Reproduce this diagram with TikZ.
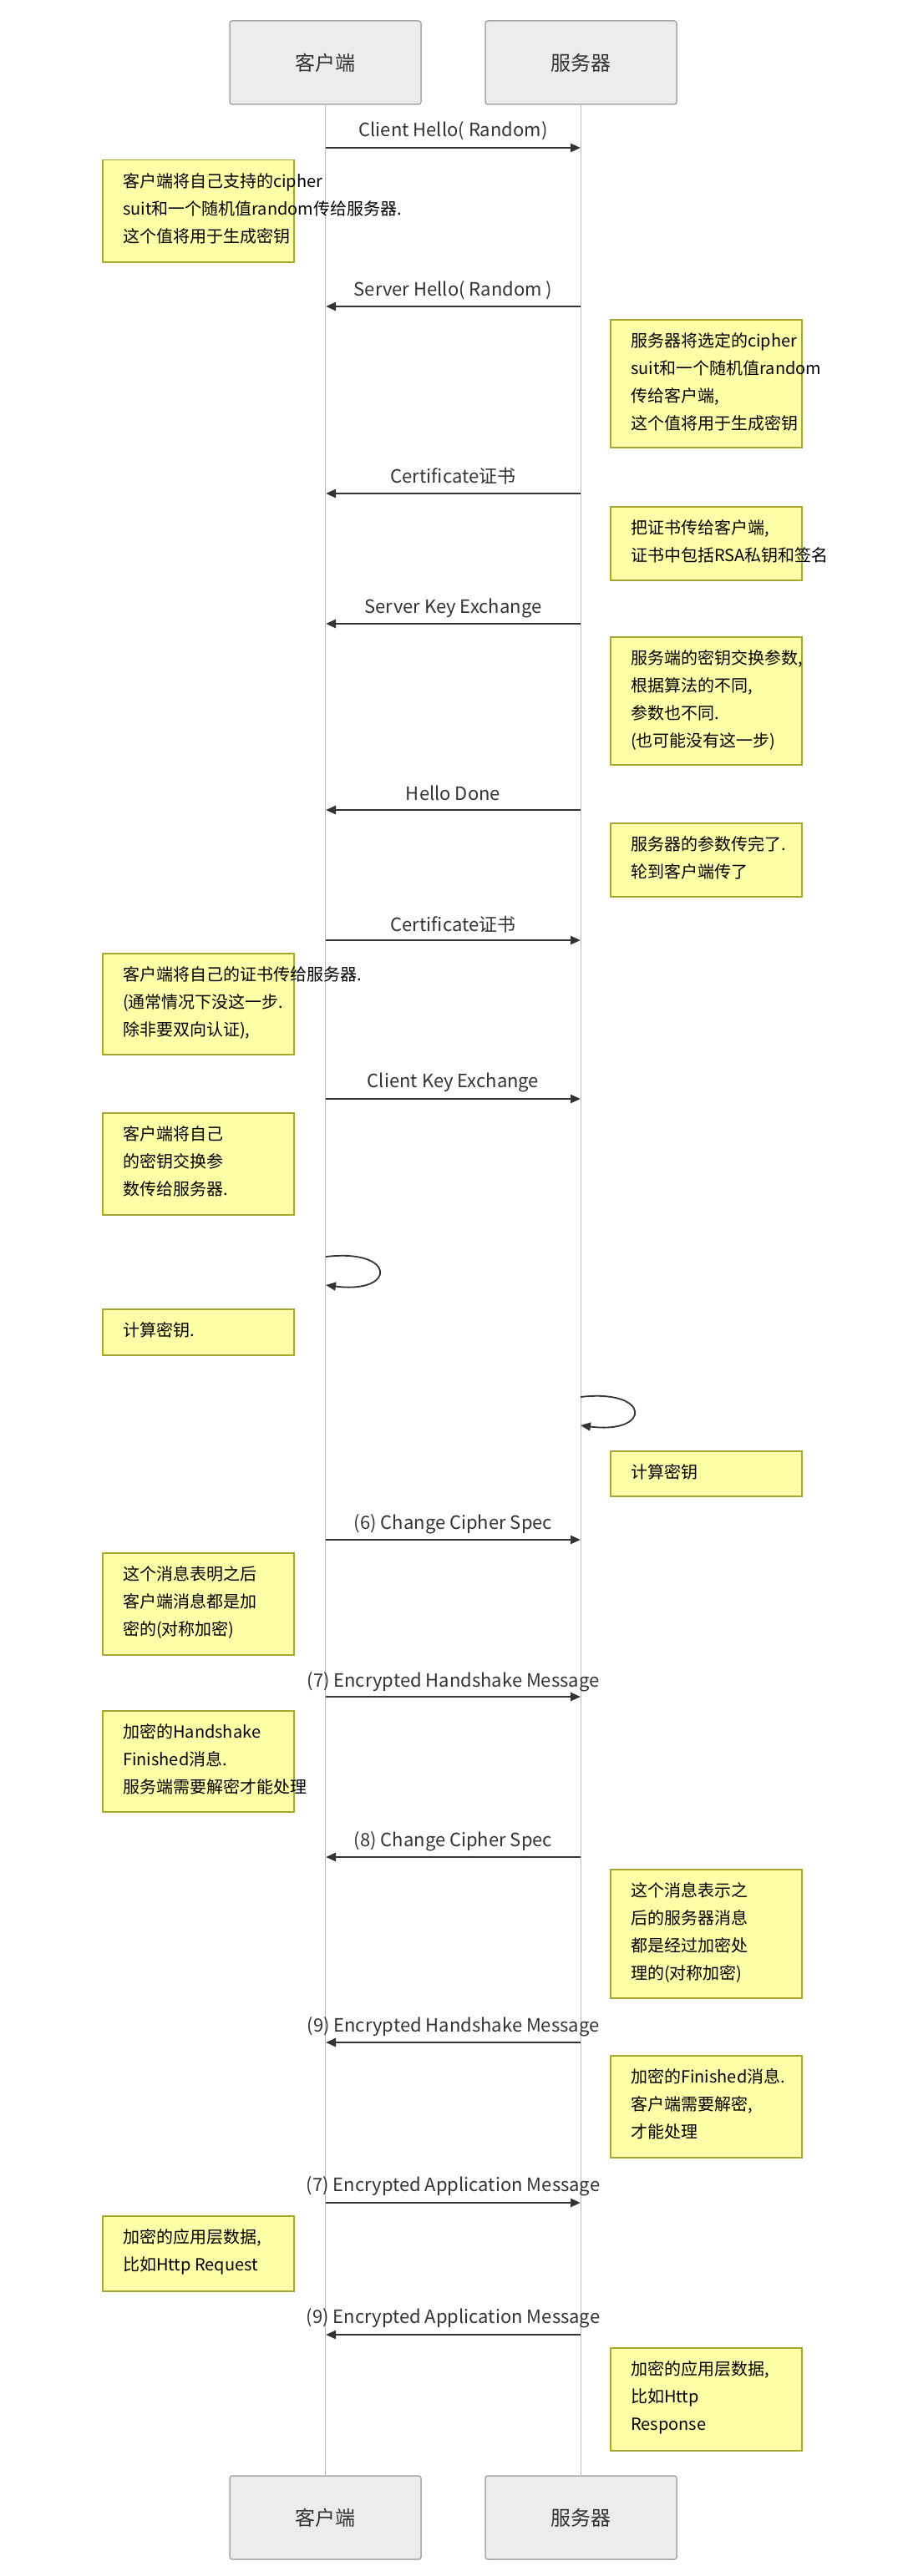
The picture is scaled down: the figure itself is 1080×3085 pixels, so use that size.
\documentclass[tikz,border=0pt]{standalone}
\usepackage{fontspec}
\setmainfont{Noto Sans CJK SC}
\usetikzlibrary{arrows.meta}
\definecolor{boxfill}{HTML}{ECECEC}
\definecolor{boxline}{HTML}{A8A8A8}
\definecolor{notefill}{HTML}{FFFFA8}
\definecolor{noteline}{HTML}{A6A633}
\definecolor{ink}{HTML}{333333}
\begin{document}
\begin{tikzpicture}[x=1pt,y=-1pt,
  actor/.style={draw=boxline,line width=1.5pt,fill=boxfill,rounded corners=3pt,minimum width=229pt,minimum height=100pt,inner sep=0pt,font=\fontsize{24}{28}\selectfont,text=ink},
  life/.style={draw=boxline!80,line width=1.3pt},
  msg/.style={draw=ink,line width=2.5pt,-{Triangle[length=12pt,width=10pt]}},
  loop/.style={draw=ink,line width=1.8pt,-{Triangle[length=12pt,width=10pt]}},
  lbl/.style={font=\fontsize{22}{26}\selectfont,text=ink,inner sep=0pt},
  note/.style={draw=noteline,line width=1.5pt,fill=notefill,anchor=north west,inner sep=0pt,minimum width=229pt},
  ntext/.style={anchor=north west,align=left,font=\fontsize{20}{33}\selectfont,inner sep=0pt,text=black}]
\useasboundingbox (0,0) rectangle (1080,3085);
% lifelines
\node[actor] (ct) at (389.5,75) {客户端};
\node[actor] (st) at (695.5,75) {服务器};
\node[actor] (cb) at (389.5,3015) {客户端};
\node[actor] (sb) at (695.5,3015) {服务器};
\draw[life] (ct.south) -- (cb.north);
\draw[life] (st.south) -- (sb.north);
% helper
\newcommand{\nbox}[5]{% name, x, top, height, text
  \node[note,minimum height=#4pt] (#1) at (#2,#3) {};
  \node[ntext] (#1t) at ([xshift=25pt,yshift=-16pt]#1.north west) {#5};}
\newcommand{\msgr}[4]{% name, y arrow, y label, text  (client -> server)
  \coordinate (#1a) at (390,#2); \coordinate (#1b) at (695,#2);
  \draw[msg] (#1a) -- (#1b);
  \node[lbl] (#1l) at (542.5,#3) {#4};}
\newcommand{\msgl}[4]{%
  \coordinate (#1a) at (695,#2); \coordinate (#1b) at (390,#2);
  \draw[msg] (#1a) -- (#1b);
  \node[lbl] (#1l) at (542.5,#3) {#4};}
\msgr{m1}{177}{157}{Client Hello( Random)}
\nbox{n1}{122}{191}{122}{客户端将自己支持的cipher\\suit和一个随机值random传给服务器.\\这个值将用于生成密钥}
\msgl{m2}{367}{348}{Server Hello( Random )}
\nbox{n2}{730}{382}{153}{服务器将选定的cipher\\suit和一个随机值random\\传给客户端,\\这个值将用于生成密钥}
\msgl{m3}{591}{570}{Certificate证书}
\nbox{n3}{730}{606}{88}{把证书传给客户端,\\证书中包括RSA私钥和签名}
\msgl{m4}{747}{728}{Server Key Exchange}
\nbox{n4}{730}{762}{153}{服务端的密钥交换参数,\\根据算法的不同,\\参数也不同.\\(也可能没有这一步)}
\msgl{m5}{970}{950}{Hello Done}
\nbox{n5}{730}{985}{88}{服务器的参数传完了.\\轮到客户端传了}
\msgr{m6}{1126}{1107}{Certificate证书}
\nbox{n6}{122}{1141}{121}{客户端将自己的证书传给服务器.\\(通常情况下没这一步.\\除非要双向认证),}
\msgr{m7}{1316}{1296}{Client Key Exchange}
\nbox{n7}{122}{1332}{122}{客户端将自己\\的密钥交换参\\数传给服务器.}
% self loop client
\coordinate (l1a) at (390,1505); \coordinate (l1b) at (390,1539);
\draw[loop] (l1a) .. controls (475,1495) and (475,1550) .. (l1b);
\nbox{n8}{122}{1567}{55}{计算密钥.}
\coordinate (l2a) at (695,1673); \coordinate (l2b) at (695,1707);
\draw[loop] (l2a) .. controls (780,1663) and (780,1718) .. (l2b);
\nbox{n9}{730}{1737}{54}{计算密钥}
\msgr{m8}{1844}{1825}{(6) Change Cipher Spec}
\nbox{n10}{122}{1859}{122}{这个消息表明之后\\客户端消息都是加\\密的(对称加密)}
\msgr{m9}{2032}{2014}{(7) Encrypted Handshake Message}
\nbox{n11}{122}{2048}{121}{加密的Handshake\\Finished消息.\\服务端需要解密才能处理}
\msgl{m10}{2224}{2205}{(8) Change Cipher Spec}
\nbox{n12}{730}{2238}{154}{这个消息表示之\\后的服务器消息\\都是经过加密处\\理的(对称加密)}
\msgl{m11}{2446}{2427}{(9) Encrypted Handshake Message}
\nbox{n13}{730}{2461}{122}{加密的Finished消息.\\客户端需要解密,\\才能处理}
\msgr{m12}{2638}{2618}{(7) Encrypted Application Message}
\nbox{n14}{122}{2653}{90}{加密的应用层数据,\\比如Http Request}
\msgl{m13}{2796}{2776}{(9) Encrypted Application Message}
\nbox{n15}{730}{2811}{123}{加密的应用层数据,\\比如Http\\Response}
\end{tikzpicture}
\end{document}
